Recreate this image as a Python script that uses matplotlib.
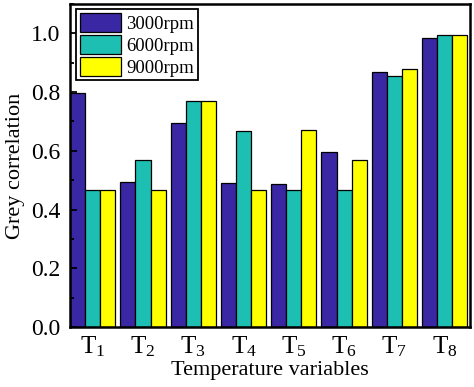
import numpy as np
import matplotlib
matplotlib.use("Agg")
import matplotlib.pyplot as plt
from matplotlib.ticker import MultipleLocator

plt.rcParams['font.family'] = 'Liberation Serif'
plt.rcParams['mathtext.fontset'] = 'custom'
plt.rcParams['mathtext.rm'] = 'Liberation Serif'
plt.rcParams['mathtext.it'] = 'Liberation Serif'

categories = ['T$_1$', 'T$_2$', 'T$_3$', 'T$_4$', 'T$_5$', 'T$_6$', 'T$_7$', 'T$_8$']
rpm_3000 = [0.796, 0.493, 0.694, 0.490, 0.487, 0.595, 0.867, 0.983]
rpm_6000 = [0.466, 0.568, 0.769, 0.667, 0.466, 0.466, 0.853, 0.993]
rpm_9000 = [0.466, 0.466, 0.769, 0.466, 0.670, 0.568, 0.878, 0.993]
series_names = ['3000rpm', '6000rpm', '9000rpm']
colors = ['#3a27a3', '#1dbfb2', '#ffff00']

fig, ax = plt.subplots(figsize=(4.74, 3.87), dpi=100)
fig.subplots_adjust(left=0.148, right=0.991, top=0.99, bottom=0.155)

x = np.arange(1, len(categories) + 1)
w = 0.3
for i, (vals, name) in enumerate(zip([rpm_3000, rpm_6000, rpm_9000], series_names)):
    ax.bar(x + (i - 1) * w, vals, width=w, color=colors[i], edgecolor='black',
           linewidth=0.9, label=name)

ax.set_xlim(0.55, 8.5)
ax.set_ylim(0, 1.1)
ax.set_xticks(x)
ax.set_xticklabels(categories)
ax.yaxis.set_major_locator(MultipleLocator(0.2))
ax.yaxis.set_minor_locator(MultipleLocator(0.1))
ax.yaxis.set_major_formatter(matplotlib.ticker.FormatStrFormatter('%.1f'))
ax.tick_params(axis='y', direction='in', length=5, width=1.3, labelsize=17, pad=7)
ax.tick_params(axis='y', which='minor', direction='in', length=3, width=1.3)
ax.tick_params(axis='x', length=0, labelsize=18, pad=5)
for s in ax.spines.values():
    s.set_linewidth(1.8)

ax.set_xlabel('Temperature variables', fontsize=16, labelpad=2)
ax.set_ylabel('Grey correlation', fontsize=16, labelpad=4)

leg = ax.legend(loc='upper left', fontsize=13.5, frameon=True, fancybox=False,
                edgecolor='black', framealpha=1, handlelength=2.2, handleheight=1.15,
                borderpad=0.2, labelspacing=0.12, handletextpad=0.3,
                borderaxespad=0.3)
leg.get_frame().set_linewidth(1.3)

fig.savefig('out.png', dpi=100)
